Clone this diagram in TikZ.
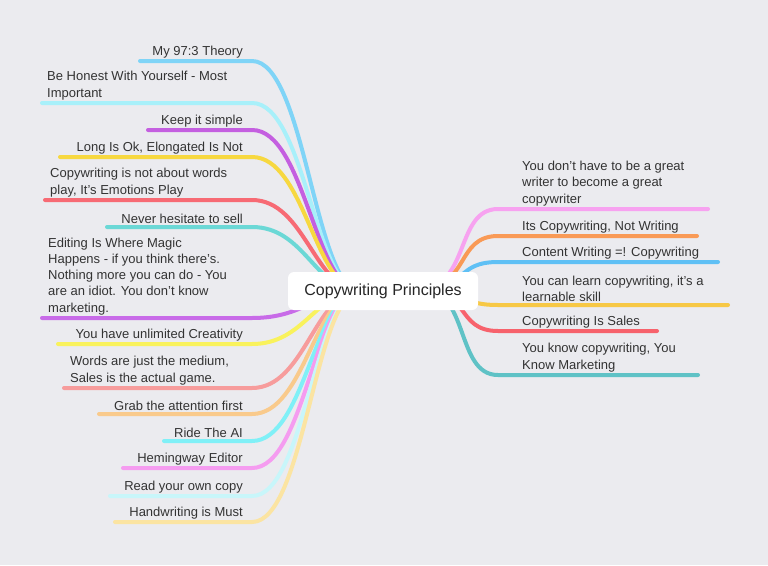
\documentclass[tikz,border=0pt]{standalone}
\usepackage{fontspec}
\setmainfont{Liberation Sans}
\definecolor{bg}{HTML}{EBEBEF}
\newcommand\Lbr[7]{%
 \definecolor{c#1}{HTML}{#5}%
 \node[txt,anchor=#6] (#1) at (#7,#3-2) {#2};
 \coordinate (#1s) at (#4,#3); \coordinate (#1e) at (252,#3);
 \draw[br,draw=c#1] (#1s) -- (#1e) .. controls (305,#3) and (315,291) .. (lhub);}
\newcommand\Rbr[5]{%
 \definecolor{c#1}{HTML}{#5}%
 \node[txt,anchor=south west] (#1) at (521,#3-2) {#2};
 \coordinate (#1s) at (498,#3); \coordinate (#1e) at (#4,#3);
 \draw[br,draw=c#1] (rhub) .. controls (470,288) and (455,#3) .. (#1s) -- (#1e);}
\begin{document}
\begin{tikzpicture}[x=1pt,y=-1pt,
 txt/.style={font=\fontsize{13}{16.2}\selectfont,text=black!80,align=left,inner sep=1pt},
 br/.style={line width=4pt,line cap=round}]
\path[fill=bg] (0,0) rectangle (768,565);
\coordinate (lhub) at (360,291);
\coordinate (rhub) at (420,288);
\Lbr{a1}{My 97:3 Theory}{61}{140}{7FD4F7}{south east}{244}
\Lbr{a2}{Be Honest With Yourself - Most\\Important}{103}{42}{A8F0FA}{south west}{46}
\Lbr{a3}{Keep it simple}{130}{148}{C45FE0}{south east}{244}
\Lbr{a4}{Long Is Ok, Elongated Is Not}{157}{60}{F7D840}{south east}{244}
\Lbr{a5}{Copywriting is not about words\\play, It’s Emotions Play}{200}{45}{F76A74}{south west}{49}
\Lbr{a6}{Never hesitate to sell}{227}{107}{6BD8D6}{south east}{244}
\Lbr{a7}{Editing Is Where Magic\\Happens - if you think there’s.\\Nothing more you can do - You\\are an idiot. You don’t know\\marketing.}{318}{42}{C86BE8}{south west}{47}
\Lbr{a8}{You have unlimited Creativity}{344}{58}{F9F25C}{south east}{244}
\Lbr{a9}{Words are just the medium,\\Sales is the actual game.}{388}{64}{F79C9C}{south west}{69}
\Lbr{a10}{Grab the attention first}{414}{99}{F9CA8C}{south east}{244}
\Lbr{a11}{Ride The AI}{441}{164}{80F0F7}{south east}{244}
\Lbr{a12}{Hemingway Editor}{468}{123}{F59CF0}{south east}{244}
\Lbr{a13}{Read your own copy}{496}{110}{C8F6FA}{south east}{244}
\Lbr{a14}{Handwriting is Must}{522}{115}{FBE4A2}{south east}{244}
\Rbr{b1}{You don’t have to be a great\\writer to become a great\\copywriter}{209}{708}{F7A2F0}
\Rbr{b2}{Its Copywriting, Not Writing}{236}{697}{F99A56}
\Rbr{b3}{Content Writing =! Copywriting}{262}{718}{5FC0F5}
\Rbr{b4}{You can learn copywriting, it’s a\\learnable skill}{305}{728}{F7C845}
\Rbr{b5}{Copywriting Is Sales}{331}{657}{F7626C}
\Rbr{b6}{You know copywriting, You\\Know Marketing}{375}{698}{5FC2C6}
\node[fill=white,rounded corners=6pt,minimum width=190pt,minimum height=38pt,
 font=\fontsize{16}{19}\selectfont,text=black!85] (root) at (383,291) {Copywriting Principles};
\end{tikzpicture}
\end{document}
